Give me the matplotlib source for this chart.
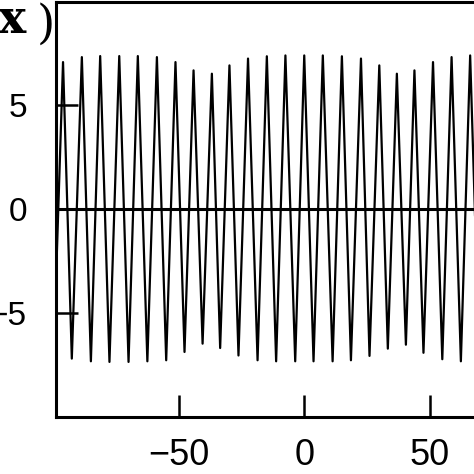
import matplotlib
matplotlib.use("Agg")
import matplotlib.pyplot as plt
import numpy as np

# extrema of the oscillation
peaks_x = [-96.2, -88.7, -81.4, -73.8, -66.4, -58.8, -51.4, -44.2, -36.9, -29.9, -22.5, -15.0,
           -7.6, -0.1, 7.3, 14.9, 22.5, 29.8, 36.8, 43.8, 51.2, 58.6, 66.0]
peaks_y = [7.09, 7.33, 7.38, 7.38, 7.38, 7.33, 7.09, 6.69, 6.53, 6.93, 7.26, 7.37,
           7.41, 7.41, 7.41, 7.37, 7.26, 6.93, 6.53, 6.69, 7.09, 7.33, 7.41]
troughs_x = [-100.0, -92.7, -85.1, -77.7, -70.1, -62.6, -55.1, -47.8, -40.6, -33.6, -26.3, -18.7,
             -11.3, -3.7, 3.6, 11.2, 18.5, 25.9, 33.2, 40.4, 47.4, 54.9, 62.3, 69.7]
troughs_y = [-7.15, -7.20, -7.33, -7.36, -7.36, -7.33, -7.28, -6.88, -6.48, -6.69, -7.05, -7.28,
             -7.33, -7.33, -7.33, -7.33, -7.28, -7.07, -6.72, -6.53, -6.92, -7.23, -7.33, -7.35]

xticks = [-50, 0, 50]
yticks = [-5, 0, 5]

x = np.array(peaks_x + troughs_x)
y = np.array(peaks_y + troughs_y)
order = np.argsort(x)
x = x[order]
y = y[order]

W = 474
fig = plt.figure(figsize=(4.74, 4.74), dpi=100)
# axes run past the right edge of the picture (the reference is cropped)
ax = fig.add_axes([56 / W, 57.3 / W, 499.5 / W, 415 / W])

ax.plot(x, y, color="black", lw=1.6)
ax.axhline(0, color="black", lw=2.2)

ax.set_xlim(-99, 100)
ax.set_ylim(-10, 10)
ax.set_xticks(xticks)
ax.set_yticks(yticks)

for s in ax.spines.values():
    s.set_linewidth(2.2)

ax.tick_params(direction="in", length=15.8, width=1.8, colors="black")
ax.tick_params(axis="x", labelsize=26, pad=15)
ax.tick_params(axis="y", labelsize=24, pad=21)
for lab in ax.get_xticklabels() + ax.get_yticklabels():
    lab.set_family("Liberation Sans")

# axis label, cut at the left edge like in the reference
fig.text(-2 / W, 441 / W, "x", ha="left", va="baseline",
         family="DejaVu Serif", weight="bold", fontsize=34)
fig.text(46 / W, 449 / W, ")", ha="center", va="center",
         family="DejaVu Serif", fontsize=34)

fig.savefig("out.png", dpi=100)
